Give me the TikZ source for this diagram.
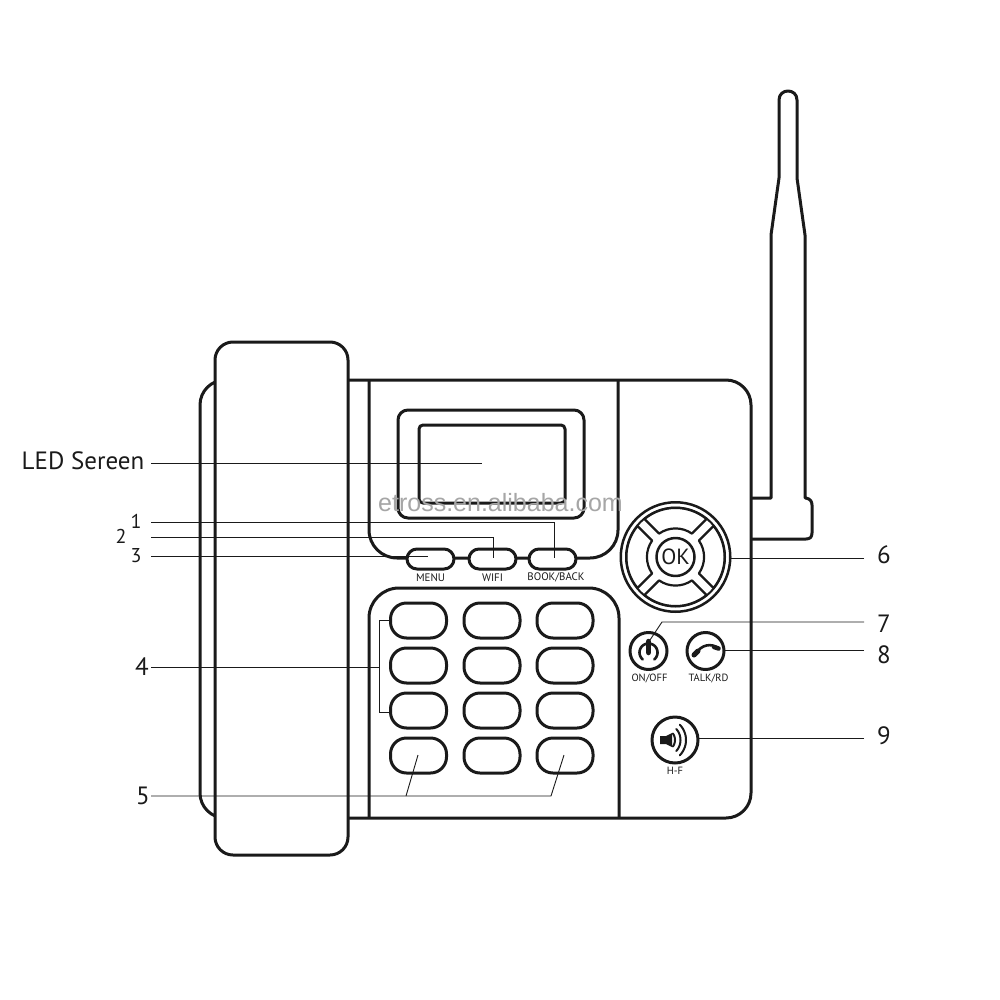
\documentclass[tikz,border=0pt]{standalone}
\usepackage{fontspec}
\setmainfont{PT Sans}
\newfontfamily\wmfont{Liberation Sans}
\definecolor{ink}{HTML}{1A1A1A}
\tikzset{
  x=1pt,y=-1pt,
  part/.style={draw=ink,line width=3pt,line join=round},
  lead/.style={draw=ink,line width=0.9pt},
  btn/.style={part,fill=white,rectangle,rounded corners=#1,inner sep=0pt,outer sep=0pt},
  topbtn/.style={btn=10pt,minimum width=47pt,minimum height=20pt},
  keybtn/.style={btn=16pt,minimum width=56pt,minimum height=35pt},
  round btn/.style={part,fill=white,circle,inner sep=0pt,outer sep=0pt,minimum size=#1},
  tag/.style={text=ink,font=\fontsize{10.5}{11}\selectfont,inner sep=0pt},
  toptag/.style={text=ink,font=\fontsize{10.9}{12}\selectfont,inner sep=0pt},
  num/.style={text=ink,font=\fontsize{25}{27}\selectfont,inner sep=0pt},
  numsmall/.style={text=ink,font=\fontsize{20}{22}\selectfont,inner sep=0pt},
  mark line/.style={draw=ink,line width=2.6pt,line cap=round},
  wave line/.style={draw=ink,line width=2pt,line cap=round}
}
\begin{document}
\begin{tikzpicture}
\useasboundingbox (0,0) rectangle (1000,1000);
\fill[white] (0,0) rectangle (1000,1000);
% antenna
\draw[part] (751,498) -- (771,498) -- (771,235) -- (779,178) -- (779,100)
  .. controls (779,88) and (797,88) .. (797,100) -- (797,178) -- (805,235) -- (805,498)
  -- (806,498) .. controls (810,499) and (812,501) .. (812,505) -- (812,533)
  .. controls (812,537) and (810,539) .. (806,539) -- (751,539);
% body
\node[btn=25pt,minimum width=551pt,minimum height=438pt] (body) at (475.5,599) {};
% panels
\draw[part,rounded corners=28pt] (369,380) -- (369,558) -- (618,558) -- (618,380);
\draw[part,rounded corners=30pt] (369,818) -- (369,588) -- (619,588) -- (619,818);
% screen
\node[btn=10pt,minimum width=186pt,minimum height=108pt] (bezel) at (491,464) {};
\node[btn=4pt,minimum width=146pt,minimum height=78pt] (screen) at (492,464) {};
% handset
\node[btn=18pt,minimum width=133pt,minimum height=513pt] (handset) at (281.5,598.5) {};
% top buttons
\node[topbtn] (menu) at (430.5,559) {};
\node[topbtn] (wifi) at (492.5,559) {};
\node[topbtn] (book) at (552.5,559) {};
\node[toptag] (menutag) at (430.5,577.5) {MENU};
\node[toptag] (wifitag) at (492.5,577.5) {WIFI};
\node[toptag] (booktag) at (556,577.5) {BOOK/BACK};
% keypad
\foreach \r/\yy in {1/620.5,2/665.5,3/710.5,4/755.5}{
  \node[keybtn] (k\r a) at (418.5,\yy) {};
  \node[keybtn] (k\r b) at (492,\yy) {};
  \node[keybtn] (k\r c) at (565,\yy) {};
}
% d-pad
\node[round btn=109.5pt,line width=2.5pt] (dpad) at (675.5,557) {};
\node[round btn=99pt,line width=2pt] (dpadin) at (675.5,557) {};
\foreach \a in {0,90,180,270}{
  \begin{scope}[shift={(675.5,557)},rotate=\a]
    \draw[part,line width=2.2pt] (-31,-38) -- (-16.4,-23.4)
      .. controls (-6.6,-30.3) and (6.6,-30.3) .. (16.4,-23.4) -- (31,-38)
      .. controls (12.9,-52.8) and (-12.9,-52.8) .. (-31,-38) -- cycle;
  \end{scope}
}
\node[round btn=38pt,line width=2.5pt,text=ink,font=\fontsize{22}{24}\selectfont] (ok) at (675.5,557) {OK};
% round keys
\node[round btn=37pt] (onoff) at (648.5,651) {};
\node[round btn=37pt] (talk) at (705.5,651) {};
\node[round btn=46pt] (hf) at (675,740) {};
\node[tag] (onofftag) at (649.5,678) {ON/OFF};
\node[tag] (talktag) at (708.5,678) {TALK/RD};
\node[tag] (hftag) at (675,771) {H-F};
% power icon
\draw[mark line] plot[domain=-50:230,samples=40] ({648.5+9*cos(\x)},{652.5-9*sin(\x)});
\draw[draw=ink,line width=5.5pt,line cap=round] (648.5,641.5) -- (648.5,652.5);
% phone icon
\draw[draw=ink,line width=2.6pt] (696,654) .. controls (700,645) and (712,642) .. (719,649);
\draw[draw=ink,line width=5pt,line cap=round] (694,655) -- (698,651);
\draw[draw=ink,line width=4.5pt,line cap=round] (714,647) -- (718.5,648.5);
% speaker icon
\fill[ink] (660,736) -- (666,736) -- (672,733) -- (672,747) -- (666,744) -- (660,744) -- cycle;
\foreach \rr/\ang in {11/36,16.5/42,22/44}{
  \draw[wave line] plot[domain=-\ang:\ang,samples=15] ({664+\rr*cos(\x)},{740-\rr*sin(\x)});
}
% watermark
\node[inner sep=0pt,text=black!35,font=\wmfont\fontsize{25}{27}\selectfont] (wm) at (500.5,503) {etross.en.alibaba.com};
% labels
\node[num] (ledtag) at (83,461) {LED Sereen};
\node[numsmall] (n1) at (136,521) {1};
\node[numsmall] (n2) at (121,536) {2};
\node[numsmall] (n3) at (136,556) {3};
\node[num] (n4) at (142,667) {4};
\node[num] (n5) at (143,796) {5};
\node[num] (n6) at (884,555) {6};
\node[num] (n7) at (884,624) {7};
\node[num] (n8) at (884,655) {8};
\node[num] (n9) at (884,736) {9};
% connector ends
\coordinate (aled) at (151,463);  \coordinate (eled) at (482,463);
\coordinate (a1) at (151,522);    \coordinate (e1) at (554,558);
\coordinate (a2) at (151,537);    \coordinate (e2) at (493,558);
\coordinate (a3) at (151,556);    \coordinate (e3) at (428,556);
\coordinate (a4) at (151,667);    \coordinate (e4) at (379,667);
\coordinate (a5) at (151,796);    \coordinate (m5a) at (406,796);  \coordinate (m5b) at (551,796);
\coordinate (e5a) at (418,755);   \coordinate (e5b) at (564,755);
\coordinate (a6) at (864,558);
\coordinate (a7) at (864,622);    \coordinate (m7) at (662,622);   \coordinate (e7) at (650,640);
\coordinate (a8) at (864,650);
\coordinate (a9) at (864,738);
% connectors
\draw[lead] (aled) -- (eled);
\draw[lead] (a1) -| (e1);
\draw[lead] (a2) -| (e2);
\draw[lead] (a3) -- (e3);
\draw[lead] (a4) -- (e4);
\draw[lead] (389,620) -- (379,620) -- (379,712) -- (389,712);
\draw[lead] (a5) -- (m5b) -- (e5b);
\draw[lead] (m5a) -- (e5a);
\draw[lead] (a6) -- (a6 -| dpad.east);
\draw[lead] (a7) -- (m7) -- (e7);
\draw[lead] (a8) -- (a8 -| talk.east);
\draw[lead] (a9) -- (a9 -| hf.east);
\end{tikzpicture}
\end{document}
